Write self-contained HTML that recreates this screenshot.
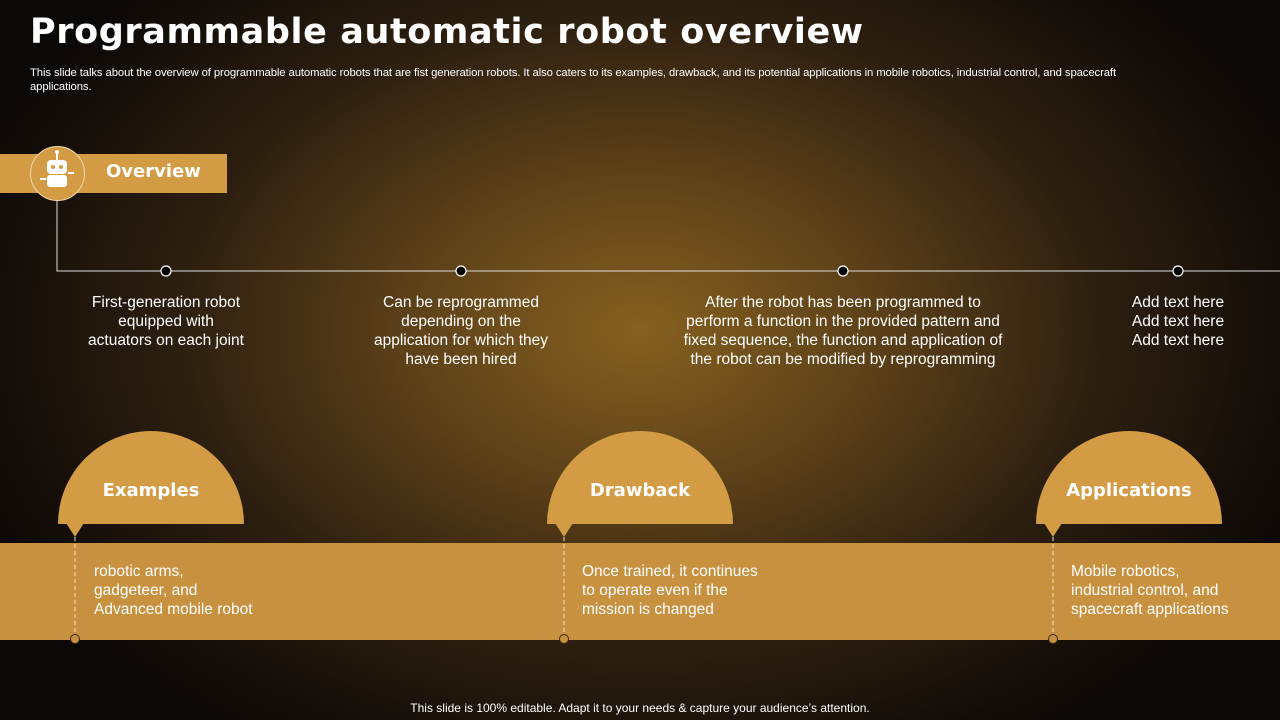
<!DOCTYPE html>
<html><head><meta charset="utf-8"><style>
*{margin:0;padding:0;box-sizing:border-box}
body{width:1280px;height:720px;overflow:hidden;position:relative;font-family:"Liberation Sans",Arial,sans-serif;color:#fff;
background:radial-gradient(ellipse 700px 480px at 640px 330px,#86601f 0%,#5a3f18 35%,#2e2010 65%,#0c0806 100%);}
.abs{position:absolute}
h1{position:absolute;left:30px;top:12px;font-family:"DejaVu Sans",sans-serif;font-size:35px;font-weight:bold;letter-spacing:0.6px}
.sub{left:30px;top:66px;width:1150px;font-size:11.3px;line-height:14px;letter-spacing:-0.1px}
.t{font-size:15.5px;line-height:19px;text-align:center}
.h{font-family:"DejaVu Sans",sans-serif;font-size:18px;font-weight:bold;text-align:center}
.b{font-size:15.5px;line-height:19px}
</style></head><body>
<h1>Programmable automatic robot overview</h1>
<div class="abs sub">This slide talks about the overview of programmable automatic robots that are fist generation robots. It also caters to its examples, drawback, and its potential applications in mobile robotics, industrial control, and spacecraft applications.</div>
<div class="abs" style="left:0;top:154px;width:227px;height:39px;background:#d49b45"></div>
<div class="abs" style="left:106px;top:161px;font-family:'DejaVu Sans',sans-serif;font-size:18px;font-weight:bold">Overview</div>
<div class="abs" style="left:30px;top:146px;width:55px;height:55px;border-radius:50%;background:#d49b45;border:1.5px solid #f0d9b0"></div>
<svg class="abs" style="left:0;top:0" width="1280" height="720">
<g fill="#fff">
<rect x="47" y="160" width="20" height="14" rx="4"/>
<rect x="56" y="152" width="2" height="8"/><circle cx="57" cy="152" r="2"/>
<rect x="47" y="175" width="20" height="12" rx="3"/>
<circle cx="53" cy="167" r="2" fill="#d49b45"/><circle cx="61" cy="167" r="2" fill="#d49b45"/>
<rect x="40" y="178" width="6" height="2"/><rect x="68" y="172" width="6" height="2"/>
</g>
<polyline points="57,201 57,271 1280,271" fill="none" stroke="#ddd" stroke-width="1"/>
<g fill="#000" stroke="#fff" stroke-width="1.2">
<circle cx="166" cy="271" r="5"/><circle cx="461" cy="271" r="5"/><circle cx="843" cy="271" r="5"/><circle cx="1178" cy="271" r="5"/>
</g>
<rect x="0" y="543" width="1280" height="97" fill="#c89140"/>
<g fill="#d49b45">
<path d="M58,524 A93,93 0 0 1 244,524 Z"/><path d="M66,523 L84,523 L75,537 Z"/>
<path d="M547,524 A93,93 0 0 1 733,524 Z"/><path d="M555,523 L573,523 L564,537 Z"/>
<path d="M1036,524 A93,93 0 0 1 1222,524 Z"/><path d="M1044,523 L1062,523 L1053,537 Z"/>
</g>
<g stroke="#f3e2c4" stroke-width="1" stroke-dasharray="4,3">
<line x1="75" y1="537" x2="75" y2="634"/><line x1="564" y1="537" x2="564" y2="634"/><line x1="1053" y1="537" x2="1053" y2="634"/>
</g>
<g fill="#c89140" stroke="#3a2810" stroke-width="1">
<circle cx="75" cy="639" r="4.5"/><circle cx="564" cy="639" r="4.5"/><circle cx="1053" cy="639" r="4.5"/>
</g>
</svg>
<div class="abs t" style="left:46px;top:293px;width:240px">First-generation robot<br>equipped with<br>actuators on each joint</div>
<div class="abs t" style="left:331px;top:293px;width:260px">Can be reprogrammed<br>depending on the<br>application for which they<br>have been hired</div>
<div class="abs t" style="left:643px;top:293px;width:400px">After the robot has been programmed to<br>perform a function in the provided pattern and<br>fixed sequence, the function and application of<br>the robot can be modified by reprogramming</div>
<div class="abs t" style="left:1098px;top:293px;width:160px">Add text here<br>Add text here<br>Add text here</div>
<div class="abs h" style="left:58px;top:480px;width:186px">Examples</div>
<div class="abs h" style="left:547px;top:480px;width:186px">Drawback</div>
<div class="abs h" style="left:1036px;top:480px;width:186px">Applications</div>
<div class="abs b" style="left:94px;top:562px">robotic arms,<br>gadgeteer, and<br>Advanced mobile robot</div>
<div class="abs b" style="left:582px;top:562px">Once trained, it continues<br>to operate even if the<br>mission is changed</div>
<div class="abs b" style="left:1071px;top:562px">Mobile robotics,<br>industrial control, and<br>spacecraft applications</div>
<div class="abs" style="left:0;top:701px;width:1280px;text-align:center;font-size:12px">This slide is 100% editable. Adapt it to your needs &amp; capture your audience’s attention.</div>
</body></html>
